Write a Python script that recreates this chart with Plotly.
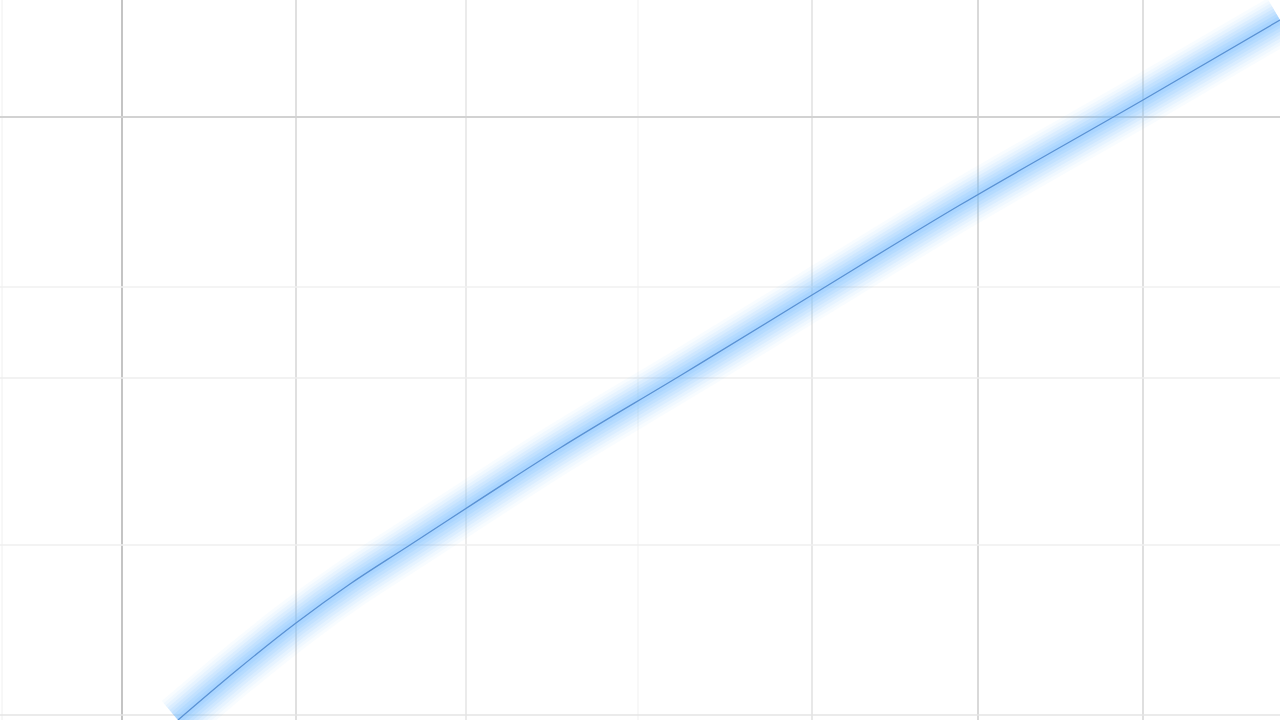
import plotly.graph_objects as go

# curve (x to the right, y downward, 1280 x 720 view)
curve_x = [178, 237, 296, 350, 410, 560, 683, 812, 960, 1143, 1280]
curve_y = [720, 670, 623, 584, 545, 448, 374, 295, 205, 100, 20]

# grid lines and how strong each one looks
vgrid_x = [2, 122, 296, 466, 638, 812, 978, 1143]
vgrid_col = ['#f0f0f0', '#c4c4c4', '#d6d6d6', '#e4e4e4', '#f1f1f1', '#e0e0e0', '#cccccc', '#d4d4d4']
vgrid_w = [1, 2, 1.5, 1.5, 1, 1.5, 1.5, 1.5]
hgrid_y = [117, 287, 378, 545, 715]
hgrid_col = ['#d2d2d2', '#f1f1f1', '#eeeeee', '#efefef', '#e4e4e4']
hgrid_w = [2, 1.5, 1.5, 1.5, 1.5]

fig = go.Figure()

shapes = []
for x, c, w in zip(vgrid_x, vgrid_col, vgrid_w):
    shapes.append(dict(type='line', xref='x', yref='paper', x0=x, x1=x, y0=0, y1=1,
                       line=dict(color=c, width=w), layer='below'))
for y, c, w in zip(hgrid_y, hgrid_col, hgrid_w):
    shapes.append(dict(type='line', xref='paper', yref='y', x0=0, x1=1, y0=y, y1=y,
                       line=dict(color=c, width=w), layer='below'))

# glow: many wide, faint strokes stacked under a thin core line
glow = [(50, 0.05), (44, 0.06), (38, 0.08), (32, 0.10), (26, 0.12), (20, 0.14), (14, 0.16), (8, 0.18)]
for w, a in glow:
    fig.add_trace(go.Scatter(x=curve_x, y=curve_y, mode='lines', line_shape='spline',
                             line=dict(color=f'rgba(120,190,255,{a})', width=w, smoothing=1),
                             hoverinfo='skip', showlegend=False))
fig.add_trace(go.Scatter(x=curve_x, y=curve_y, mode='lines', line_shape='spline',
                         line=dict(color='#5a92d4', width=1.3, smoothing=1),
                         showlegend=False))

fig.update_layout(
    width=1280, height=720,
    margin=dict(l=0, r=0, t=0, b=0),
    paper_bgcolor='white', plot_bgcolor='white',
    shapes=shapes,
    showlegend=False,
)
fig.update_xaxes(range=[0, 1280], visible=False, showgrid=False, zeroline=False)
fig.update_yaxes(range=[720, 0], visible=False, showgrid=False, zeroline=False)

fig.write_html("out.html", config={'displayModeBar': False},
               post_script="document.body.style.margin='0';document.body.style.overflow='hidden';")
